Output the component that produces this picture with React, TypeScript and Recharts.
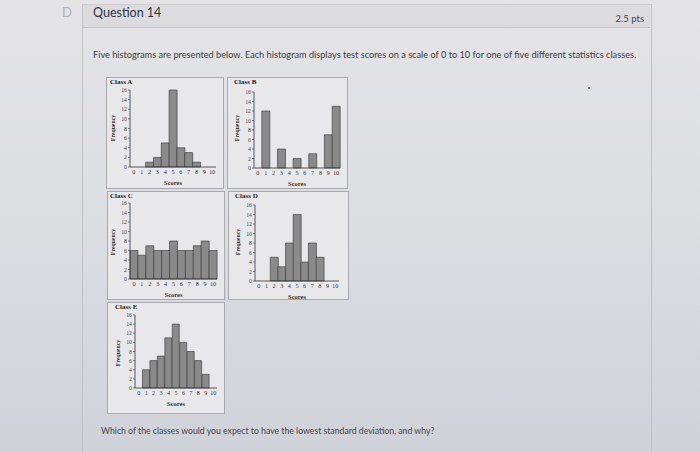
import React from 'react';
import { BarChart, Bar, XAxis, YAxis } from 'recharts';

// scores on the x axis, frequencies
const scores = [0, 1, 2, 3, 4, 5, 6, 7, 8, 9, 10];
const classA = [0, 0, 1, 2, 5, 16, 4, 3, 1, 0, 0];
const classB = [0, 12, 0, 4, 0, 2, 0, 3, 0, 7, 13];
const classC = [6, 5, 7, 6, 6, 8, 6, 6, 7, 8, 6];
const classD = [0, 0, 5, 3, 8, 14, 4, 8, 5, 0, 0];
const classE = [0, 4, 6, 7, 11, 14, 10, 8, 6, 3, 0];
const freqTicks = [0, 2, 4, 6, 8, 10, 12, 14, 16];

const questionTitle = 'Question 14';
const points = '2.5 pts';
const intro =
  'Five histograms are presented below. Each histogram displays test scores on a scale of 0 to 10 for one of five different statistics classes.';
const prompt = 'Which of the classes would you expect to have the lowest standard deviation, and why?';

const serif = '"Liberation Serif", "DejaVu Serif", serif';

// panel boxes on the page
const panels = [
  { title: 'Class A', counts: classA, left: 107, top: 78, w: 116, h: 110, axisX: 23, plotTop: 12, zeroY: 89, plotRight: 109 },
  { title: 'Class B', counts: classB, left: 228, top: 78, w: 119, h: 110, axisX: 26, plotTop: 14, zeroY: 90, plotRight: 112 },
  { title: 'Class C', counts: classC, left: 108, top: 192, w: 116, h: 107, axisX: 22, plotTop: 11, zeroY: 87, plotRight: 109 },
  { title: 'Class D', counts: classD, left: 229, top: 192, w: 119, h: 107, axisX: 26, plotTop: 13, zeroY: 89, plotRight: 110 },
  { title: 'Class E', counts: classE, left: 108, top: 303, w: 116, h: 110, axisX: 27, plotTop: 12, zeroY: 85, plotRight: 109 },
];

function Histogram({ title, counts, w, h, axisX, plotTop, zeroY, plotRight }: any) {
  const data = scores.map((s, i) => ({ score: s, freq: counts[i] }));
  const yAxisW = 12;
  const xAxisH = 18;
  return (
    <div style={{ position: 'relative', width: w, height: h }}>
      <BarChart
        width={w}
        height={h}
        data={data}
        barCategoryGap={0}
        margin={{ top: plotTop, right: w - plotRight, left: axisX - yAxisW, bottom: h - zeroY - xAxisH }}
      >
        <XAxis
          dataKey="score"
          interval={0}
          tickLine={false}
          tickSize={0}
          tickMargin={3}
          height={xAxisH}
          axisLine={{ stroke: '#333', strokeWidth: 0.8 }}
          tick={{ fontSize: 6.2, fill: '#333', fontFamily: serif }}
          label={{ value: 'Scores', position: 'insideBottom', offset: 0, fontSize: 6.5, fill: '#333', fontFamily: serif, fontWeight: 700 }}
        />
        <YAxis
          type="number"
          domain={[0, 16]}
          ticks={freqTicks}
          interval={0}
          width={yAxisW}
          tickSize={2}
          tickMargin={1}
          axisLine={{ stroke: '#333', strokeWidth: 0.8 }}
          tickLine={{ stroke: '#333', strokeWidth: 0.6 }}
          tick={{ fontSize: 5.8, fill: '#444', fontFamily: serif }}
        />
        <Bar dataKey="freq" fill="#8a8a8a" stroke="#333" strokeWidth={0.6} isAnimationActive={false} />
      </BarChart>
      <div
        style={{
          position: 'absolute', left: axisX - 20, top: 0, fontFamily: serif, fontWeight: 700,
          fontSize: 7, color: '#222', whiteSpace: 'nowrap',
        }}
      >
        {title}
      </div>
      <div
        style={{
          position: 'absolute', left: axisX - 17, top: 50, fontFamily: serif, fontWeight: 700,
          fontSize: 5.8, color: '#333', whiteSpace: 'nowrap', transform: 'translate(-50%, -50%) rotate(-90deg)',
        }}
      >
        Frequency
      </div>
    </div>
  );
}

export default function App() {
  return (
    <div
      style={{
        position: 'absolute', left: 0, top: 0, width: 700, height: 452, overflow: 'hidden',
        background: 'linear-gradient(180deg, #e4e4e7 0%, #dcdde1 50%, #d0d2d9 100%)',
        fontFamily: 'Lato, "Open Sans", sans-serif',
      }}
    >
      {/* card */}
      <div
        style={{
          position: 'absolute', left: 82, top: 4, width: 568, height: 460,
          borderLeft: '1px solid #c0c0c5', borderRight: '1px solid #bfc0c5', borderTop: '1px solid #cfcfd3',
        }}
      />
      <div
        style={{
          position: 'absolute', left: 83, top: 5, width: 567, height: 22,
          background: 'rgba(190,190,198,0.22)', borderBottom: '1px solid #c0c0c5',
        }}
      />
      <div style={{ position: 'absolute', left: 62, top: 4, fontSize: 13, color: '#b0b2ba' }}>D</div>
      <div style={{ position: 'absolute', left: 93, top: 5, fontSize: 12.5, color: '#2d3640' }}>{questionTitle}</div>
      <div style={{ position: 'absolute', right: 56, top: 13, fontSize: 9.5, color: '#444' }}>{points}</div>
      <div style={{ position: 'absolute', left: 93, top: 49, fontSize: 9.2, color: '#3d3d3d', whiteSpace: 'nowrap' }}>
        {intro}
      </div>

      {panels.map((p) => (
        <div
          key={p.title}
          style={{
            position: 'absolute', left: p.left, top: p.top, width: p.w, height: p.h,
            background: '#e8e8ea', outline: '1px solid #a8a8ad',
          }}
        >
          <Histogram {...p} />
        </div>
      ))}

      <div style={{ position: 'absolute', left: 101, top: 425, fontSize: 8.7, color: '#444', whiteSpace: 'nowrap' }}>
        {prompt}
      </div>
      <div style={{ position: 'absolute', left: 588, top: 87, width: 2, height: 2, background: '#555', borderRadius: 1 }} />
    </div>
  );
}
